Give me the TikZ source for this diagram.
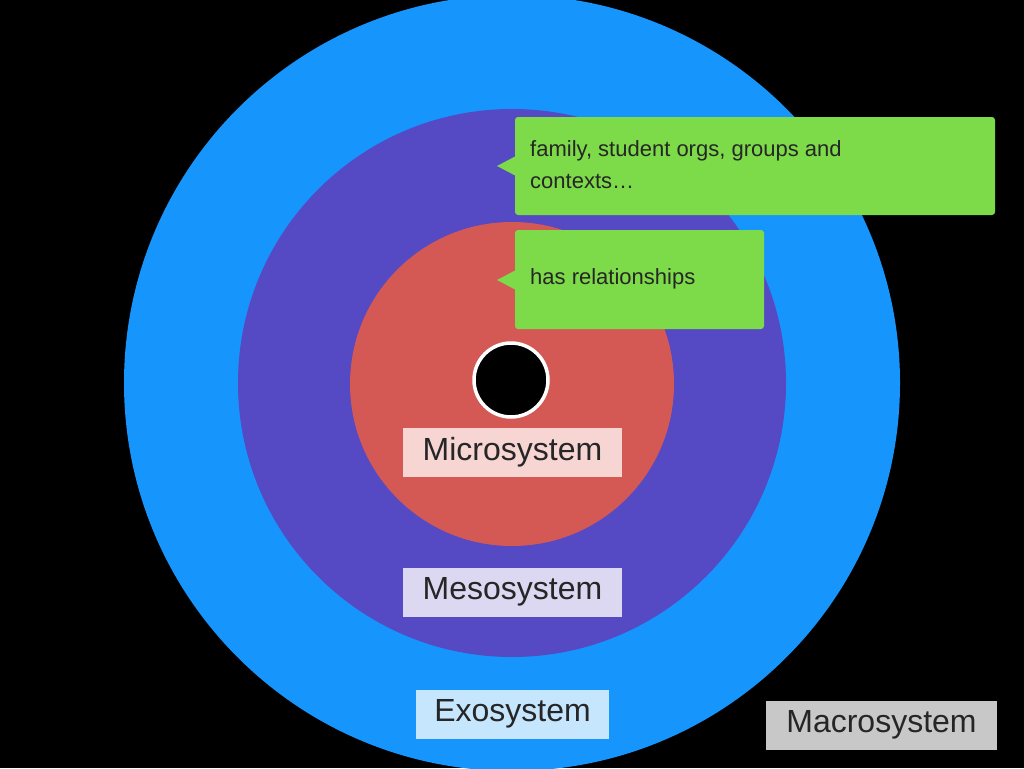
\documentclass[tikz,border=0pt]{standalone}
\usepackage{fontspec}
\setmainfont{Liberation Sans}
\begin{document}
\begin{tikzpicture}[x=1pt,y=-1pt,
  lbl/.style={inner sep=0pt,minimum height=49pt,font=\fontsize{32}{36}\selectfont,text=black!85},
  callout/.style={fill=calgreen,rounded corners=3pt},
  ctext/.style={anchor=north west,font=\fontsize{22}{32}\selectfont,text=black!85,align=left,inner sep=0pt}]
\definecolor{outerblue}{HTML}{1696FC}
\definecolor{meso}{HTML}{5549C4}
\definecolor{micro}{HTML}{D45954}
\definecolor{calgreen}{HTML}{7DDA48}
\useasboundingbox (0,0) rectangle (1024,768);
\fill[black] (0,0) rectangle (1024,768);
\begin{scope}
\clip (0,0) rectangle (1024,768);
\fill[outerblue] (512,383) circle (388);
\end{scope}
\fill[meso] (512,383) circle (274);
\fill[micro] (512,384) circle (162);
\node[circle,fill=black,draw=white,line width=3.5pt,minimum size=74pt,inner sep=0pt] (dot) at (511,380) {};
\node[lbl,fill={rgb,255:red,246;green,213;blue,211},minimum width=219pt] (mic) at (512.5,452.5) {Microsystem};
\node[lbl,fill={rgb,255:red,220;green,216;blue,242},minimum width=219pt] (mes) at (512.5,592) {Mesosystem};
\node[lbl,fill={rgb,255:red,198;green,230;blue,253},minimum width=193pt] (exo) at (512.5,714) {Exosystem};
\node[lbl,fill={rgb,255:red,200;green,200;blue,200},minimum width=231pt] (mac) at (881.5,725) {Macrosystem};
\fill[callout] (515,117) rectangle (995,215);
\fill[calgreen] (516,156) -- (497,166) -- (516,176) -- cycle;
\node[ctext] (c1) at (530,140) {family, student orgs, groups and\\contexts\ldots};
\fill[callout] (515,230) rectangle (764,329);
\fill[calgreen] (516,270) -- (497,280) -- (516,290) -- cycle;
\node[ctext] (c2) at (530,268) {has relationships};
\end{tikzpicture}
\end{document}
